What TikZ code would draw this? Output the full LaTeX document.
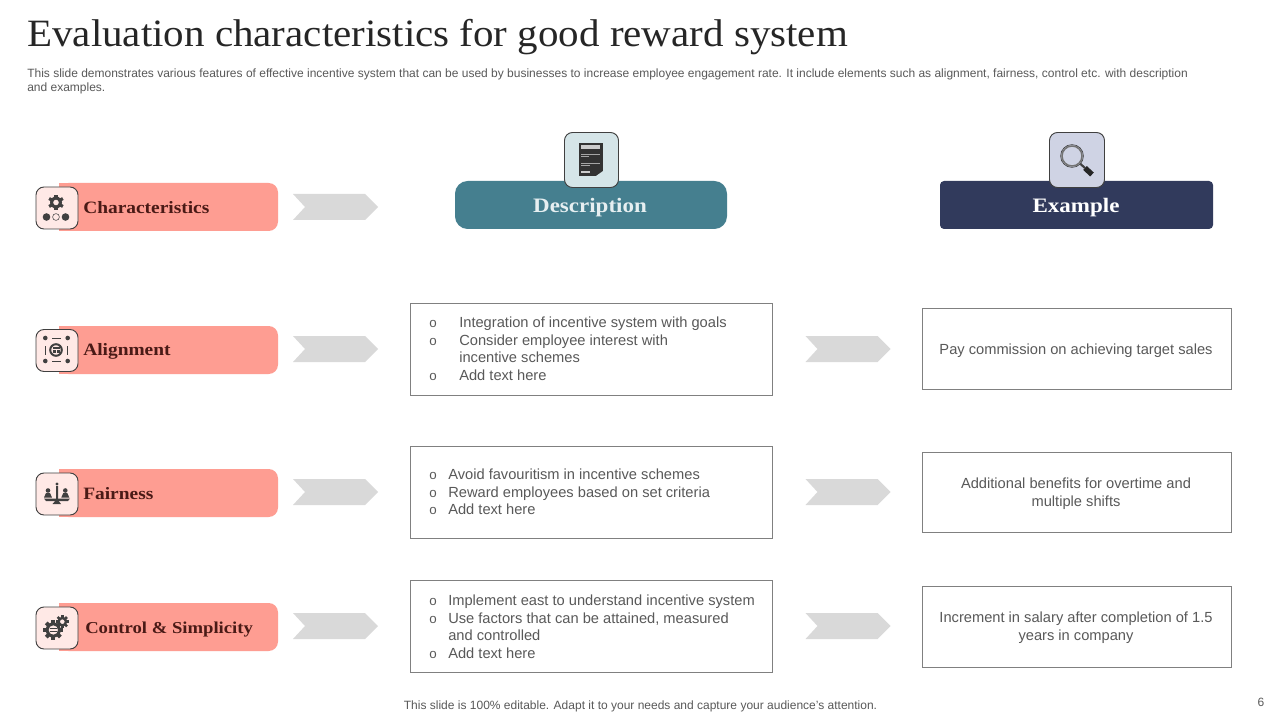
\documentclass[tikz,border=0pt]{standalone}
\usepackage{fontspec}
\setmainfont{Liberation Sans}
\newfontfamily\serifwide[FakeStretch=1.06]{Liberation Serif}
\newfontfamily\serifhead[FakeStretch=1.12]{Liberation Serif}
\usetikzlibrary{calc}
\definecolor{salmon}{HTML}{FE9D92}
\definecolor{salmonlt}{HTML}{FFE9E6}
\definecolor{teal}{HTML}{457F8F}
\definecolor{teallt}{HTML}{D5E5E8}
\definecolor{navy}{HTML}{313A5C}
\definecolor{navylt}{HTML}{CFD3E4}
\definecolor{bodytxt}{HTML}{595959}
\definecolor{chev}{HTML}{D9D9D9}
\definecolor{icondark}{HTML}{404040}
\definecolor{labeldark}{HTML}{4A1A16}
\tikzset{
  x=0.75pt,y=-0.75pt,
  titletxt/.style={anchor=base west,inner sep=0,font=\serifwide\fontsize{29}{30}\selectfont,text=black!85},
  subtxt/.style={anchor=base west,inner sep=0,font=\fontsize{9}{10}\selectfont,text=bodytxt},
  foottxt/.style={anchor=base,inner sep=0,font=\fontsize{9}{10}\selectfont,text=bodytxt},
  rowlabel/.style={anchor=base west,inner sep=0,font=\serifhead\bfseries\fontsize{13}{14}\selectfont,text=labeldark},
  headlabel/.style={anchor=base,inner sep=0,font=\serifhead\bfseries\fontsize{15.4}{16}\selectfont},
  bodyline/.style={anchor=base west,inner sep=0,font=\fontsize{11}{13}\selectfont,text=bodytxt},
  bulletmark/.style={anchor=base west,inner sep=0,font=\fontsize{10}{13}\selectfont,text=bodytxt},
  centerline/.style={anchor=base,inner sep=0,font=\fontsize{11}{13}\selectfont,text=bodytxt},
  textbox/.style={draw=black!50,line width=0.6pt,fill=white},
  iconbox/.style={draw=icondark,line width=0.7pt,rounded corners=6pt},
}
\newcommand{\chevronat}[2]{%
  \fill[chev] (#1,#2-13) -- ++(72,0) -- ++(13,13) -- ++(-13,13) -- ++(-72,0) -- ++(12,-13) -- cycle;}
\newcommand{\rowbar}[2]{%
  \fill[salmon,rounded corners=7pt] (59,#1) -- (59,#1+48) -- (278,#1+48) -- (278,#1) -- cycle;
  \fill[salmon] (59,#1) rectangle (75,#1+48);
  \filldraw[iconbox,fill=salmonlt] (36,#2) rectangle (78,#2+42);}
\newcommand{\gearicon}[4]{% x y r teeth
  \foreach \a in {1,...,#4}{
    \fill[icondark,rotate around={360/#4*\a:(#1,#2)}] (#1-#3*0.26,#2-#3*1.32) rectangle (#1+#3*0.26,#2-#3*0.8);}
  \fill[icondark,even odd rule] (#1,#2) circle[radius=#3] (#1,#2) circle[radius=#3*0.48];}
\begin{document}
\begin{tikzpicture}
\useasboundingbox (0,0) rectangle (1280,720);
\fill[white] (0,0) rectangle (1280,720);
% title
\node[titletxt] (title) at (27,47) {Evaluation characteristics for good reward system};
\node[subtxt] (sub1) at (27,78) {This slide demonstrates various features of effective incentive system that can be used by businesses to increase employee engagement rate. It include elements such as alignment, fairness, control etc. with description};
\node[subtxt] (sub2) at (27,92) {and examples.};
% left rows
\rowbar{183}{187}
\rowbar{326}{329.5}
\rowbar{469}{473}
\rowbar{603}{607}
\node[rowlabel] (l1) at (83,213.5) {Characteristics};
\node[rowlabel] (l2) at (83,355) {Alignment};
\node[rowlabel] (l3) at (83,499) {Fairness};
\node[rowlabel,font=\serifhead\bfseries\fontsize{12.5}{14}\selectfont] (l4) at (85,633) {Control \& Simplicity};
% icon 1 : gear and dots
\gearicon{56}{202.5}{6}{6}
\fill[icondark] (46.5,217) circle[radius=3.8] (65.5,217) circle[radius=3.8];
\draw[icondark,line width=0.4pt] (56,217) circle[radius=3.4];
% icon 2 : alignment
\draw[icondark,line width=1.5pt] (56,350) circle[radius=5.8];
\fill[icondark] (52.5,347) rectangle (59.5,353);
\draw[salmonlt,line width=0.4pt] (52.5,349) -- (59.5,349) (56,349) -- (56,353);
\fill[icondark] (45.3,338) circle[radius=2.3] (67.7,338) circle[radius=2.3] (45.3,361) circle[radius=2.3] (67.7,361) circle[radius=2.3];
\draw[icondark,line width=0.6pt] (52,338.5) -- (61,338.5) (52,361.5) -- (61,361.5) (45.3,346) -- (45.3,355) (67.7,346) -- (67.7,355);
% icon 3 : fairness
\fill[icondark] (52.5,504) -- (61,504) -- (58,500) -- (58,486) -- (56,486) -- (56,500) -- cycle;
\fill[icondark] (57,484) circle[radius=1.6];
\fill[icondark] (44,498.5) -- (70,498.5) -- (68,501) -- (46,501) -- cycle;
\fill[icondark] (48,490.5) circle[radius=2.3] (65.3,490.5) circle[radius=2.3];
\fill[icondark] (44,497.5) -- (46,493) -- (50,493) -- (52,497.5) -- cycle;
\fill[icondark] (61.3,497.5) -- (63.3,493) -- (67.3,493) -- (69.3,497.5) -- cycle;
% icon 4 : gears
\gearicon{62.3}{621.7}{5}{8}
\gearicon{53.3}{630}{7.6}{8}
\fill[salmonlt] (53.3,630) circle[radius=4.6];
\draw[icondark,line width=0.4pt] (49.5,628.5) -- (57,628.5) (49.5,631.5) -- (57,631.5);
% chevrons
\chevronat{293}{207}
\chevronat{293}{349}
\chevronat{293}{492}
\chevronat{293}{626}
\chevronat{805.5}{349}
\chevronat{805.5}{492}
\chevronat{805.5}{626}
% headers
\fill[teal,rounded corners=9.5pt] (455,181) rectangle (727,229);
\fill[navy,rounded corners=3pt] (940,181) rectangle (1213,229);
\filldraw[iconbox,fill=teallt] (564.5,132.5) rectangle (618.5,187.5);
\filldraw[iconbox,fill=navylt] (1049.5,132.5) rectangle (1104.5,187.5);
\node[headlabel,text=teallt!60!white] (h1) at (590,212.5) {Description};
\node[headlabel,text=white] (h2) at (1076,212.5) {Example};
% document icon
\fill[black!80] (579,143) rectangle (603,176);
\fill[teallt] (603,171) -- (603,176) -- (596,176) -- cycle;
\fill[black!20] (581,145) rectangle (600,149);
\draw[black!35,line width=0.35pt] (581,154) -- (600,154) (581,156.5) -- (589,156.5) (581,163) -- (600,163) (581,165.5) -- (590,165.5);
\fill[black!20] (581,171.5) rectangle (590,173.5);
% magnifier
\draw[black!55,line width=1.1pt] (1072,156) circle[radius=10];
\draw[black!75,line width=0.5pt] (1072,156) circle[radius=11.4];
\draw[black!75,line width=1.6pt] (1080.5,164) -- (1085,168);
\draw[black!85,line width=4pt] (1085,168) -- (1092,174.5);
% body boxes
\draw[textbox] (410,303.5) rectangle (772.5,395.5);
\draw[textbox] (410,446.5) rectangle (772.5,538.5);
\draw[textbox] (410,580.5) rectangle (772.5,672.5);
\draw[textbox] (922,308.5) rectangle (1231.5,389.5);
\draw[textbox] (922,452.5) rectangle (1231.5,532.5);
\draw[textbox] (922,586.5) rectangle (1231.5,667.5);
% row 1 text
\node[bulletmark] (b11) at (429,327) {o};
\node[bodyline] (t11) at (459,327) {Integration of incentive system with goals};
\node[bulletmark] (b12) at (429,345) {o};
\node[bodyline] (t12) at (459,345) {Consider employee interest with};
\node[bodyline] (t13) at (459,362) {incentive schemes};
\node[bulletmark] (b14) at (429,380) {o};
\node[bodyline] (t14) at (459,380) {Add text here};
% row 2 text
\node[bulletmark] (b21) at (429,479) {o};
\node[bodyline] (t21) at (448,479) {Avoid favouritism in incentive schemes};
\node[bulletmark] (b22) at (429,497) {o};
\node[bodyline] (t22) at (448,497) {Reward employees based on set criteria};
\node[bulletmark] (b23) at (429,514) {o};
\node[bodyline] (t23) at (448,514) {Add text here};
% row 3 text
\node[bulletmark] (b31) at (429,605) {o};
\node[bodyline] (t31) at (448,605) {Implement east to understand incentive system};
\node[bulletmark] (b32) at (429,623) {o};
\node[bodyline] (t32) at (448,623) {Use factors that can be attained, measured};
\node[bodyline] (t33) at (448,640) {and controlled};
\node[bulletmark] (b34) at (429,658) {o};
\node[bodyline] (t34) at (448,658) {Add text here};
% examples
\node[centerline] (e1) at (1076,354) {Pay commission on achieving target sales};
\node[centerline] (e21) at (1076,488) {Additional benefits for overtime and};
\node[centerline] (e22) at (1076,506) {multiple shifts};
\node[centerline] (e31) at (1076,622) {Increment in salary after completion of 1.5};
\node[centerline] (e32) at (1076,640) {years in company};
% footer
\node[foottxt] (foot) at (640.5,709) {This slide is 100\% editable. Adapt it to your needs and capture your audience’s attention.};
\node[foottxt] (page) at (1261,706) {6};
\end{tikzpicture}
\end{document}
